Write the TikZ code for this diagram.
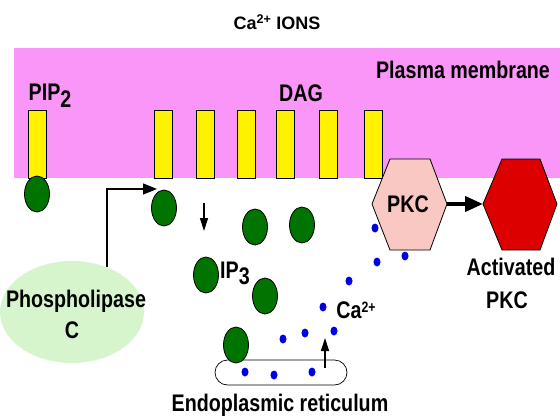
\documentclass[tikz,border=0pt]{standalone}
\usepackage{fontspec}
\setmainfont{Liberation Sans}
\newfontfamily\lab{Liberation Sans}[FakeStretch=0.82]
\usetikzlibrary{arrows.meta,shapes.geometric,shapes.misc}
\definecolor{memb}{RGB}{250,150,248}
\definecolor{dkgreen}{RGB}{0,115,0}
\definecolor{ltgreen}{RGB}{215,245,205}
\definecolor{pkcpink}{RGB}{250,200,195}
\definecolor{pkcred}{RGB}{220,0,0}
\definecolor{ionblue}{RGB}{0,0,230}
\begin{document}
\begin{tikzpicture}[x=1pt,y=-1pt,
  lbl/.style={font=\lab\bfseries\fontsize{24}{26}\selectfont, inner sep=0pt, anchor=base},
  ybar/.style={draw=black, fill=yellow, minimum width=18pt, minimum height=68pt, inner sep=0pt, line width=0.8pt},
  grn/.style={ellipse, draw=black, fill=dkgreen, inner sep=0pt, minimum width=25pt, minimum height=36pt, line width=0.8pt},
  ion/.style={ellipse, fill=ionblue, inner sep=0pt, minimum width=7pt, minimum height=9pt},
  hexa/.style={draw=black, line width=0.8pt, line join=miter},
  thinarr/.style={line width=1.3pt, -{Triangle[length=14pt,width=11pt]}},
  smallarr/.style={line width=1.2pt, -{Triangle[length=13pt,width=8pt]}},
  bigarr/.style={line width=4pt, -{Triangle[length=18pt,width=15pt]}}
]
\useasboundingbox (0,0) rectangle (560,420);
\fill[white] (0,0) rectangle (560,420);

% title
\node[font=\bfseries\fontsize{18}{20}\selectfont, inner sep=0pt, anchor=base] (title) at (277,30) {Ca\textsuperscript{2+} IONS};

% membrane
\fill[memb] (14,48) rectangle (560,178);
\node[lbl] (pm) at (463,78) {Plasma membrane};
\node[lbl] (pip) at (50,100) {PIP\raisebox{-7pt}{2}};
\node[lbl] (dag) at (301,102) {DAG};

% lipid bars
\node[ybar] (b0) at (37,144) {};
\node[ybar] (b1) at (163.5,144) {};
\node[ybar] (b2) at (205.5,144) {};
\node[ybar] (b3) at (246.5,144) {};
\node[ybar] (b4) at (285.5,144) {};
\node[ybar] (b5) at (328.5,144) {};
\node[ybar] (b6) at (373.5,144) {};

% phospholipase C
\node[ellipse, fill=ltgreen, minimum width=144pt, minimum height=102pt, inner sep=0pt] (plc) at (72,312) {};
\node[lbl] (plct1) at (76,307) {Phospholipase};
\node[lbl] (plct2) at (72,338) {C};

% endoplasmic reticulum
\node[rounded rectangle, draw=black, line width=0.7pt, minimum width=132pt, minimum height=25pt, inner sep=0pt] (er) at (281,372.5) {};
\node[lbl] (ert) at (280,411) {Endoplasmic reticulum};

% green molecules
\node[grn] (g1) at (37,194) {};
\node[grn] (g2) at (164,208) {};
\node[grn] (g3) at (255,227) {};
\node[grn] (g4) at (206,275) {};
\node[grn] (g5) at (265,296) {};
\node[grn] (g6) at (236,345) {};
\node[grn] (g7) at (302,225) {};
\node[lbl] (ip3) at (235,278) {IP\raisebox{-6pt}{3}};

% arrow from phospholipase C
\coordinate (plcend) at (157,189);
\draw[thinarr] (plc.52) |- (plcend);
% down arrow
\coordinate (dtop) at (204,203);
\coordinate (dbot) at (204,231);
\draw[smallarr] (dtop) -- (dbot);

% calcium ions
\foreach \p [count=\i] in {(375,228),(377,262),(405,256),(349,281),(323,307),(334,331),(305,333),(283,339),(245,372),(274,375),(312,372)}
  \node[ion] (ca\i) at \p {};
\node[lbl] (catext) at (356,318) {Ca\raisebox{6pt}{\fontsize{15}{15}\selectfont 2+}};
\coordinate (upbot) at (325,368);
\coordinate (uptop) at (325,338);
\draw[smallarr] (upbot) -- (uptop);

% PKC hexagons
\draw[hexa, fill=pkcpink] (372,204) -- (390,159) -- (430,159) -- (447,204) -- (430,250) -- (390,250) -- cycle;
\coordinate (pkcR) at (447,204);
\node[lbl] (pkc) at (408,212) {PKC};
\draw[hexa, fill=pkcred] (483,204) -- (502,159) -- (540,159) -- (557,204) -- (540,250) -- (502,250) -- cycle;
\coordinate (apkcL) at (483,204);
\draw[bigarr] (pkcR) -- (apkcL);
\node[lbl] (act1) at (511,275) {Activated};
\node[lbl] (act2) at (507,308) {PKC};
\end{tikzpicture}
\end{document}
